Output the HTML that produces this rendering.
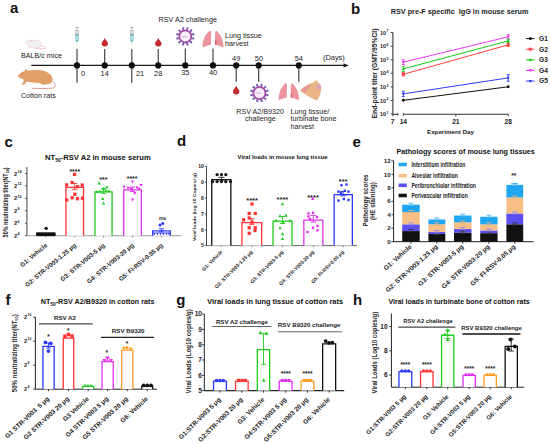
<!DOCTYPE html><html><head><meta charset="utf-8"><style>html,body{margin:0;padding:0;background:#fff;}svg{display:block;}</style></head><body><svg width="550" height="444" viewBox="0 0 550 444" font-family='"Liberation Sans", sans-serif'><rect width="550" height="444" fill="#fff"/><text x="10" y="13.4" font-size="15" font-weight="bold" text-anchor="start" fill="#111">a</text>
<line x1="31.3" y1="65.4" x2="345" y2="65.4" stroke="#1a1a1a" stroke-width="1.2"/>
<polygon points="343.5,63.2 348.8,65.4 343.5,67.6" fill="#1a1a1a"/>
<line x1="77" y1="49" x2="77" y2="82.7" stroke="#333" stroke-width="1.1"/>
<line x1="104.7" y1="49" x2="104.7" y2="65.4" stroke="#333" stroke-width="1.1"/>
<line x1="131.8" y1="49" x2="131.8" y2="82.7" stroke="#333" stroke-width="1.1"/>
<line x1="158.2" y1="49" x2="158.2" y2="65.4" stroke="#333" stroke-width="1.1"/>
<line x1="185.3" y1="48.5" x2="185.3" y2="65.4" stroke="#333" stroke-width="1.1"/>
<line x1="213" y1="48.5" x2="213" y2="65.4" stroke="#333" stroke-width="1.1"/>
<line x1="236.2" y1="65.4" x2="236.2" y2="81.7" stroke="#333" stroke-width="1.1"/>
<line x1="258.7" y1="65.4" x2="258.7" y2="81.7" stroke="#333" stroke-width="1.1"/>
<line x1="298.8" y1="65.4" x2="298.8" y2="81.7" stroke="#333" stroke-width="1.1"/>
<circle cx="77" cy="65.4" r="3.1" fill="#0d0d0d"/>
<circle cx="104.7" cy="65.4" r="3.1" fill="#0d0d0d"/>
<circle cx="131.8" cy="65.4" r="3.1" fill="#0d0d0d"/>
<circle cx="158.2" cy="65.4" r="3.1" fill="#0d0d0d"/>
<circle cx="185.3" cy="65.4" r="3.1" fill="#0d0d0d"/>
<circle cx="213" cy="65.4" r="3.1" fill="#0d0d0d"/>
<circle cx="236.2" cy="65.4" r="3.1" fill="#0d0d0d"/>
<circle cx="258.7" cy="65.4" r="3.1" fill="#0d0d0d"/>
<circle cx="298.8" cy="65.4" r="3.1" fill="#0d0d0d"/>
<text x="81" y="75.5" font-size="7.4" font-weight="normal" text-anchor="start" fill="#222">0</text>
<text x="104.7" y="75.5" font-size="7.4" font-weight="normal" text-anchor="middle" fill="#222">14</text>
<text x="136" y="75.5" font-size="7.4" font-weight="normal" text-anchor="start" fill="#222">21</text>
<text x="158.2" y="75.5" font-size="7.4" font-weight="normal" text-anchor="middle" fill="#222">28</text>
<text x="185.3" y="75.2" font-size="7.4" font-weight="normal" text-anchor="middle" fill="#222">35</text>
<text x="213" y="75.2" font-size="7.4" font-weight="normal" text-anchor="middle" fill="#222">40</text>
<text x="236.2" y="60.5" font-size="7.4" font-weight="normal" text-anchor="middle" fill="#222">49</text>
<text x="258.9" y="60.5" font-size="7.4" font-weight="normal" text-anchor="middle" fill="#222">50</text>
<text x="298.8" y="60.5" font-size="7.4" font-weight="normal" text-anchor="middle" fill="#222">54</text>
<text x="323" y="59.9" font-size="7.4" font-weight="normal" text-anchor="start" fill="#222">(Days)</text>
<text x="158.4" y="22" font-size="7.2" font-weight="normal" text-anchor="start" fill="#222" textLength="58.6" lengthAdjust="spacingAndGlyphs">RSV A2 challenge</text>
<text x="225" y="38" font-size="7.2" font-weight="normal" text-anchor="start" fill="#222">Lung tissue</text>
<text x="225" y="45.6" font-size="7.2" font-weight="normal" text-anchor="start" fill="#222">harvest</text>
<text x="21" y="58" font-size="7.2" font-weight="normal" text-anchor="start" fill="#222" textLength="41" lengthAdjust="spacingAndGlyphs">BALB/c mice</text>
<text x="21" y="97.7" font-size="7.2" font-weight="normal" text-anchor="start" fill="#222" textLength="34.7" lengthAdjust="spacingAndGlyphs">Cotton rats</text>
<text x="236.3" y="113.5" font-size="7.2" font-weight="normal" text-anchor="start" fill="#222" textLength="47.6" lengthAdjust="spacingAndGlyphs">RSV A2/B9320</text>
<text x="260.3" y="121.2" font-size="7.2" font-weight="normal" text-anchor="middle" fill="#222">challenge</text>
<text x="290.5" y="113.5" font-size="7.2" font-weight="normal" text-anchor="start" fill="#222">Lung tissue/</text>
<text x="290.5" y="121.2" font-size="7.2" font-weight="normal" text-anchor="start" fill="#222">turbinate bone</text>
<text x="290.5" y="129.3" font-size="7.2" font-weight="normal" text-anchor="start" fill="#222">harvest</text>
<g transform="translate(77,0)"><rect x="-1.6" y="27" width="3.2" height="0.9" fill="#9aa"/><rect x="-0.5" y="27.8" width="1" height="3" fill="#bbb"/><rect x="-1.6" y="30.5" width="3.2" height="4.3" fill="#d8dde0" stroke="#9aa" stroke-width="0.4"/><rect x="-1.6" y="34.6" width="3.2" height="0.9" fill="#456"/><rect x="-1.6" y="35.5" width="3.2" height="4.8" fill="#a8e4ea" stroke="#7bb" stroke-width="0.4"/><polygon points="-1.2,40.3 1.2,40.3 0,42.8" fill="#4aa"/><line x1="0" y1="42.8" x2="0" y2="46" stroke="#ccc" stroke-width="0.4"/></g>
<g transform="translate(131.8,0)"><rect x="-1.6" y="27" width="3.2" height="0.9" fill="#9aa"/><rect x="-0.5" y="27.8" width="1" height="3" fill="#bbb"/><rect x="-1.6" y="30.5" width="3.2" height="4.3" fill="#d8dde0" stroke="#9aa" stroke-width="0.4"/><rect x="-1.6" y="34.6" width="3.2" height="0.9" fill="#456"/><rect x="-1.6" y="35.5" width="3.2" height="4.8" fill="#a8e4ea" stroke="#7bb" stroke-width="0.4"/><polygon points="-1.2,40.3 1.2,40.3 0,42.8" fill="#4aa"/><line x1="0" y1="42.8" x2="0" y2="46" stroke="#ccc" stroke-width="0.4"/></g>
<path d="M104.8,38.0 C105.6,40.2 108.0,42.0 108.0,43.6 A3.2,3.0 0 0 1 101.6,43.6 C101.6,42.0 104.0,40.2 104.8,38.0 Z" fill="#c42a31"/>
<path d="M158.3,38.0 C159.10000000000002,40.2 161.5,42.0 161.5,43.6 A3.2,3.0 0 0 1 155.10000000000002,43.6 C155.10000000000002,42.0 157.5,40.2 158.3,38.0 Z" fill="#c42a31"/>
<path d="M236.2,85.8 C237.0,88 239.39999999999998,89.8 239.39999999999998,91.4 A3.2,3.0 0 0 1 233.0,91.4 C233.0,89.8 235.39999999999998,88 236.2,85.8 Z" fill="#c42a31"/>
<line x1="191.58" y1="38.07" x2="193.22" y2="38.51" stroke="#7a56ae" stroke-width="1.1"/><circle cx="193.32" cy="38.53" r="1.15" fill="#6f5bb0"/><line x1="189.90" y1="40.99" x2="191.11" y2="42.19" stroke="#7a56ae" stroke-width="1.1"/><circle cx="191.18" cy="42.26" r="1.15" fill="#6f5bb0"/><line x1="186.99" y1="42.68" x2="187.44" y2="44.32" stroke="#7a56ae" stroke-width="1.1"/><circle cx="187.46" cy="44.41" r="1.15" fill="#6f5bb0"/><line x1="183.63" y1="42.68" x2="183.19" y2="44.32" stroke="#7a56ae" stroke-width="1.1"/><circle cx="183.17" cy="44.42" r="1.15" fill="#6f5bb0"/><line x1="180.71" y1="41.00" x2="179.51" y2="42.21" stroke="#7a56ae" stroke-width="1.1"/><circle cx="179.44" cy="42.28" r="1.15" fill="#6f5bb0"/><line x1="179.02" y1="38.09" x2="177.38" y2="38.54" stroke="#7a56ae" stroke-width="1.1"/><circle cx="177.29" cy="38.56" r="1.15" fill="#6f5bb0"/><line x1="179.02" y1="34.73" x2="177.38" y2="34.29" stroke="#7a56ae" stroke-width="1.1"/><circle cx="177.28" cy="34.27" r="1.15" fill="#6f5bb0"/><line x1="180.70" y1="31.81" x2="179.49" y2="30.61" stroke="#7a56ae" stroke-width="1.1"/><circle cx="179.42" cy="30.54" r="1.15" fill="#6f5bb0"/><line x1="183.61" y1="30.12" x2="183.16" y2="28.48" stroke="#7a56ae" stroke-width="1.1"/><circle cx="183.14" cy="28.39" r="1.15" fill="#6f5bb0"/><line x1="186.97" y1="30.12" x2="187.41" y2="28.48" stroke="#7a56ae" stroke-width="1.1"/><circle cx="187.43" cy="28.38" r="1.15" fill="#6f5bb0"/><line x1="189.89" y1="31.80" x2="191.09" y2="30.59" stroke="#7a56ae" stroke-width="1.1"/><circle cx="191.16" cy="30.52" r="1.15" fill="#6f5bb0"/><line x1="191.58" y1="34.71" x2="193.22" y2="34.26" stroke="#7a56ae" stroke-width="1.1"/><circle cx="193.31" cy="34.24" r="1.15" fill="#6f5bb0"/><circle cx="185.3" cy="36.4" r="6.1" fill="#f8eef8" stroke="#a04aa6" stroke-width="1.8"/><path d="M182.3,36.1 l1,1.2 l1,-1.5 l1,1.4 l1,-1.2 l1,1" stroke="#a88ac4" stroke-width="0.5" fill="none"/>
<line x1="265.68" y1="94.67" x2="267.32" y2="95.11" stroke="#7a56ae" stroke-width="1.1"/><circle cx="267.42" cy="95.13" r="1.15" fill="#6f5bb0"/><line x1="264.00" y1="97.59" x2="265.21" y2="98.79" stroke="#7a56ae" stroke-width="1.1"/><circle cx="265.28" cy="98.86" r="1.15" fill="#6f5bb0"/><line x1="261.09" y1="99.28" x2="261.54" y2="100.92" stroke="#7a56ae" stroke-width="1.1"/><circle cx="261.56" cy="101.01" r="1.15" fill="#6f5bb0"/><line x1="257.73" y1="99.28" x2="257.29" y2="100.92" stroke="#7a56ae" stroke-width="1.1"/><circle cx="257.27" cy="101.02" r="1.15" fill="#6f5bb0"/><line x1="254.81" y1="97.60" x2="253.61" y2="98.81" stroke="#7a56ae" stroke-width="1.1"/><circle cx="253.54" cy="98.88" r="1.15" fill="#6f5bb0"/><line x1="253.12" y1="94.69" x2="251.48" y2="95.14" stroke="#7a56ae" stroke-width="1.1"/><circle cx="251.39" cy="95.16" r="1.15" fill="#6f5bb0"/><line x1="253.12" y1="91.33" x2="251.48" y2="90.89" stroke="#7a56ae" stroke-width="1.1"/><circle cx="251.38" cy="90.87" r="1.15" fill="#6f5bb0"/><line x1="254.80" y1="88.41" x2="253.59" y2="87.21" stroke="#7a56ae" stroke-width="1.1"/><circle cx="253.52" cy="87.14" r="1.15" fill="#6f5bb0"/><line x1="257.71" y1="86.72" x2="257.26" y2="85.08" stroke="#7a56ae" stroke-width="1.1"/><circle cx="257.24" cy="84.99" r="1.15" fill="#6f5bb0"/><line x1="261.07" y1="86.72" x2="261.51" y2="85.08" stroke="#7a56ae" stroke-width="1.1"/><circle cx="261.53" cy="84.98" r="1.15" fill="#6f5bb0"/><line x1="263.99" y1="88.40" x2="265.19" y2="87.19" stroke="#7a56ae" stroke-width="1.1"/><circle cx="265.26" cy="87.12" r="1.15" fill="#6f5bb0"/><line x1="265.68" y1="91.31" x2="267.32" y2="90.86" stroke="#7a56ae" stroke-width="1.1"/><circle cx="267.41" cy="90.84" r="1.15" fill="#6f5bb0"/><circle cx="259.4" cy="93" r="6.1" fill="#f8eef8" stroke="#a04aa6" stroke-width="1.8"/><path d="M256.4,92.7 l1,1.2 l1,-1.5 l1,1.4 l1,-1.2 l1,1" stroke="#a88ac4" stroke-width="0.5" fill="none"/>
<g transform="translate(202.6,30.7) scale(1.0048309178743962,1.0058823529411764)"><path d="M7,0 C8,0.3 8.3,2 8.3,4 L8.3,14 C5,14.6 2,15.6 0,16.8 C-0.3,10 2.5,3.5 7,0 Z" fill="#ec939e"/><path d="M13.7,0 C12.7,0.3 12.4,2 12.4,4 L12.4,14 C15.7,14.6 18.7,15.6 20.7,16.8 C21,10 18.2,3.5 13.7,0 Z" fill="#ec939e"/><path d="M12.4,10.2 L13.8,9.6 L13.6,14.2 L12.4,14 Z" fill="#cf5563"/><path d="M7.2,0.4 C7.8,1 8.0,2.5 8.0,4" stroke="#d86878" stroke-width="0.6" fill="none"/></g>
<g transform="translate(278.7,83.2) scale(0.9758454106280193,1.0235294117647058)"><path d="M7,0 C8,0.3 8.3,2 8.3,4 L8.3,14 C5,14.6 2,15.6 0,16.8 C-0.3,10 2.5,3.5 7,0 Z" fill="#ec939e"/><path d="M13.7,0 C12.7,0.3 12.4,2 12.4,4 L12.4,14 C15.7,14.6 18.7,15.6 20.7,16.8 C21,10 18.2,3.5 13.7,0 Z" fill="#ec939e"/><path d="M12.4,10.2 L13.8,9.6 L13.6,14.2 L12.4,14 Z" fill="#cf5563"/><path d="M7.2,0.4 C7.8,1 8.0,2.5 8.0,4" stroke="#d86878" stroke-width="0.6" fill="none"/></g>
<path d="M300.1,90.8 C303,87 308,84 313.6,82.3 L315,80.8 C316.5,80.3 317.8,80.8 317.8,82.5 C320.5,83.5 321.5,86 321.2,89 C321,93 319.5,97.5 317,100.6 C313,99 306,95.5 300.1,90.8 Z" fill="#e9b684"/><path d="M300.5,90.5 C303,87.8 307.5,85 311,84.2 C309.5,87 307,90.5 305,93 C303.5,92.3 302,91.5 300.5,90.5 Z" fill="#f0949a"/><circle cx="318.6" cy="87" r="2.4" fill="#dba2b2"/>
<path d="M26.1,42.2 C27.5,41 29.5,40.6 31,40.6 L31.3,39.8 C32,39.5 32.6,40 32.5,40.5 C35,39.8 38.5,40 40.5,42 C42,43.5 42,45.5 40.5,46.8 C39.5,47.3 38.5,47.6 38,47.6 C35,47.5 32,47.2 30,46.8 C29.5,47.3 29.2,47.6 28.8,47.8 C28.6,47 29,46.2 29,45.5 C27.8,44.5 26.6,43.5 26.1,42.2 Z" fill="#f3f1f1" stroke="#e6b9b9" stroke-width="0.5"/><path d="M40.8,45.8 C43.5,46.5 46.5,47.5 45.5,48.5 C43,49 37,48.5 34.5,48.3" stroke="#e8a8a8" stroke-width="0.6" fill="none"/><circle cx="31.5" cy="41.2" r="0.9" fill="#f0c4c8"/>
<path d="M52.5,81.5 C55,83 56,86 54.5,87.5 C52,88.8 40,88.5 32,88.3" stroke="#dc9a98" stroke-width="1.0" fill="none"/><path d="M18.2,75.7 C19.5,73.5 22,72 24.8,71.5 L25.3,69.6 C26.3,69.1 27.5,69.8 27.6,71.2 C31,70.3 35,70 38,70.2 C44,70.5 49,72.5 51.2,76 C52.8,78.5 52.8,81.5 50.5,83 C48.5,84 46.5,84.3 45,84.3 L41.8,84.3 C41,83.5 40.5,83 39.5,82.8 C37,82.6 34,82.5 31.5,82 C29.5,81.8 27.5,81.5 26.5,81.2 C26,82.2 25.5,83 24.8,84 L22,84.3 C21.8,83.5 22.5,83 23.5,82.5 C24,81.5 24,80 23.8,79 C22,78.8 20.5,78 19,77.2 C18.4,76.8 18.1,76.3 18.2,75.7 Z" fill="#e09f64" stroke="#d08a50" stroke-width="0.4"/><circle cx="22.4" cy="74" r="0.5" fill="#a05a30"/>
<text x="351" y="14" font-size="15" font-weight="bold" text-anchor="start" fill="#111">b</text>
<text x="390.8" y="14" font-size="7" font-weight="bold" text-anchor="start" fill="#222" textLength="137.6" lengthAdjust="spacingAndGlyphs">RSV pre-F specific&#160; IgG in mouse serum</text>
<line x1="392.9" y1="32.4" x2="392.9" y2="114" stroke="#222" stroke-width="1"/>
<line x1="390.7" y1="114.0" x2="392.9" y2="114.0" stroke="#222" stroke-width="0.9"/>
<text x="385.9" y="116.1" font-size="5.4" font-weight="bold" text-anchor="end" fill="#222">10</text>
<text x="386.6" y="113.8" font-size="3.6" font-weight="bold" text-anchor="start" fill="#222">1</text>
<line x1="390.7" y1="100.43" x2="392.9" y2="100.43" stroke="#222" stroke-width="0.9"/>
<text x="385.9" y="102.53" font-size="5.4" font-weight="bold" text-anchor="end" fill="#222">10</text>
<text x="386.6" y="100.23" font-size="3.6" font-weight="bold" text-anchor="start" fill="#222">2</text>
<line x1="390.7" y1="86.86" x2="392.9" y2="86.86" stroke="#222" stroke-width="0.9"/>
<text x="385.9" y="88.96" font-size="5.4" font-weight="bold" text-anchor="end" fill="#222">10</text>
<text x="386.6" y="86.66" font-size="3.6" font-weight="bold" text-anchor="start" fill="#222">3</text>
<line x1="390.7" y1="73.28999999999999" x2="392.9" y2="73.28999999999999" stroke="#222" stroke-width="0.9"/>
<text x="385.9" y="75.38999999999999" font-size="5.4" font-weight="bold" text-anchor="end" fill="#222">10</text>
<text x="386.6" y="73.08999999999999" font-size="3.6" font-weight="bold" text-anchor="start" fill="#222">4</text>
<line x1="390.7" y1="59.72" x2="392.9" y2="59.72" stroke="#222" stroke-width="0.9"/>
<text x="385.9" y="61.82" font-size="5.4" font-weight="bold" text-anchor="end" fill="#222">10</text>
<text x="386.6" y="59.519999999999996" font-size="3.6" font-weight="bold" text-anchor="start" fill="#222">5</text>
<line x1="390.7" y1="46.150000000000006" x2="392.9" y2="46.150000000000006" stroke="#222" stroke-width="0.9"/>
<text x="385.9" y="48.25000000000001" font-size="5.4" font-weight="bold" text-anchor="end" fill="#222">10</text>
<text x="386.6" y="45.95" font-size="3.6" font-weight="bold" text-anchor="start" fill="#222">6</text>
<line x1="390.7" y1="32.58" x2="392.9" y2="32.58" stroke="#222" stroke-width="0.9"/>
<text x="385.9" y="34.68" font-size="5.4" font-weight="bold" text-anchor="end" fill="#222">10</text>
<text x="386.6" y="32.379999999999995" font-size="3.6" font-weight="bold" text-anchor="start" fill="#222">7</text>
<line x1="392.9" y1="114.3" x2="397.8" y2="114.3" stroke="#333" stroke-width="1.1"/>
<line x1="403.4" y1="114.3" x2="508.5" y2="114.3" stroke="#333" stroke-width="1.1"/>
<line x1="397.8" y1="112.9" x2="397.8" y2="115.7" stroke="#333" stroke-width="0.9"/>
<line x1="403.4" y1="112.9" x2="403.4" y2="115.7" stroke="#333" stroke-width="0.9"/>
<line x1="392.9" y1="114.3" x2="392.9" y2="116.5" stroke="#333" stroke-width="0.9"/>
<line x1="455.8" y1="114.3" x2="455.8" y2="116.5" stroke="#333" stroke-width="0.9"/>
<line x1="508.2" y1="114.3" x2="508.2" y2="116.5" stroke="#333" stroke-width="0.9"/>
<text x="392.7" y="123.6" font-size="6.6" font-weight="bold" text-anchor="middle" fill="#222">7</text>
<text x="403.3" y="123.6" font-size="6.6" font-weight="bold" text-anchor="middle" fill="#222">14</text>
<text x="455.8" y="123.6" font-size="6.6" font-weight="bold" text-anchor="middle" fill="#222">21</text>
<text x="508.2" y="123.6" font-size="6.6" font-weight="bold" text-anchor="middle" fill="#222">28</text>
<text x="450.5" y="134.3" font-size="6" font-weight="bold" text-anchor="middle" fill="#222" textLength="47" lengthAdjust="spacingAndGlyphs">Experiment Day</text>
<text x="377.2" y="73.5" font-size="6.6" font-weight="bold" text-anchor="middle" fill="#222" transform="rotate(-90 377.2 73.5)" textLength="90" lengthAdjust="spacingAndGlyphs">End-point titer (GMT/95%CI)</text>
<line x1="403.3" y1="100.3" x2="508.2" y2="86.8" stroke="#111111" stroke-width="1.0"/>
<circle cx="403.3" cy="100.3" r="1.4375" fill="#111111"/>
<circle cx="508.2" cy="86.8" r="1.4375" fill="#111111"/>
<line x1="403.3" y1="74.3" x2="508.2" y2="44.9" stroke="#ff4040" stroke-width="1.0"/>
<rect x="401.8625" y="72.8625" width="2.875" height="2.875" fill="#ff4040" stroke="none" stroke-width="1"/>
<rect x="506.7625" y="43.4625" width="2.875" height="2.875" fill="#ff4040" stroke="none" stroke-width="1"/>
<line x1="403.3" y1="68.9" x2="508.2" y2="40.9" stroke="#16c916" stroke-width="1.0"/>
<polygon points="403.3,67.17500000000001 404.88125,70.05000000000001 401.71875,70.05000000000001" fill="#16c916"/>
<polygon points="508.2,39.175 509.78125,42.05 506.61875,42.05" fill="#16c916"/>
<line x1="403.3" y1="62.2" x2="508.2" y2="36.8" stroke="#e838f0" stroke-width="1.0"/>
<polygon points="403.3,63.925000000000004 404.88125,61.050000000000004 401.71875,61.050000000000004" fill="#e838f0"/>
<polygon points="508.2,38.525 509.78125,35.65 506.61875,35.65" fill="#e838f0"/>
<line x1="403.3" y1="93.9" x2="508.2" y2="77.9" stroke="#2b3cf5" stroke-width="1.0"/>
<polygon points="403.3,95.625 404.88125,92.75 401.71875,92.75" fill="#2b3cf5"/>
<polygon points="508.2,79.625 509.78125,76.75 506.61875,76.75" fill="#2b3cf5"/>
<line x1="403.3" y1="91.30000000000001" x2="403.3" y2="96.5" stroke="#2b3cf5" stroke-width="0.9"/>
<line x1="401.8" y1="91.30000000000001" x2="404.8" y2="91.30000000000001" stroke="#2b3cf5" stroke-width="0.9"/>
<line x1="401.8" y1="96.5" x2="404.8" y2="96.5" stroke="#2b3cf5" stroke-width="0.9"/>
<line x1="508.2" y1="74.60000000000001" x2="508.2" y2="81.2" stroke="#2b3cf5" stroke-width="0.9"/>
<line x1="506.7" y1="74.60000000000001" x2="509.7" y2="74.60000000000001" stroke="#2b3cf5" stroke-width="0.9"/>
<line x1="506.7" y1="81.2" x2="509.7" y2="81.2" stroke="#2b3cf5" stroke-width="0.9"/>
<line x1="403.3" y1="59.800000000000004" x2="403.3" y2="64.60000000000001" stroke="#e838f0" stroke-width="0.9"/>
<line x1="401.8" y1="59.800000000000004" x2="404.8" y2="59.800000000000004" stroke="#e838f0" stroke-width="0.9"/>
<line x1="401.8" y1="64.60000000000001" x2="404.8" y2="64.60000000000001" stroke="#e838f0" stroke-width="0.9"/>
<line x1="508.2" y1="34.599999999999994" x2="508.2" y2="39.0" stroke="#e838f0" stroke-width="0.9"/>
<line x1="506.7" y1="34.599999999999994" x2="509.7" y2="34.599999999999994" stroke="#e838f0" stroke-width="0.9"/>
<line x1="506.7" y1="39.0" x2="509.7" y2="39.0" stroke="#e838f0" stroke-width="0.9"/>
<line x1="403.3" y1="72.7" x2="403.3" y2="75.89999999999999" stroke="#ff4040" stroke-width="0.9"/>
<line x1="401.8" y1="72.7" x2="404.8" y2="72.7" stroke="#ff4040" stroke-width="0.9"/>
<line x1="401.8" y1="75.89999999999999" x2="404.8" y2="75.89999999999999" stroke="#ff4040" stroke-width="0.9"/>
<line x1="508.2" y1="43.4" x2="508.2" y2="46.4" stroke="#ff4040" stroke-width="0.9"/>
<line x1="506.7" y1="43.4" x2="509.7" y2="43.4" stroke="#ff4040" stroke-width="0.9"/>
<line x1="506.7" y1="46.4" x2="509.7" y2="46.4" stroke="#ff4040" stroke-width="0.9"/>
<line x1="403.3" y1="66.30000000000001" x2="403.3" y2="71.5" stroke="#16c916" stroke-width="0.9"/>
<line x1="401.8" y1="66.30000000000001" x2="404.8" y2="66.30000000000001" stroke="#16c916" stroke-width="0.9"/>
<line x1="401.8" y1="71.5" x2="404.8" y2="71.5" stroke="#16c916" stroke-width="0.9"/>
<line x1="508.2" y1="39.3" x2="508.2" y2="42.5" stroke="#16c916" stroke-width="0.9"/>
<line x1="506.7" y1="39.3" x2="509.7" y2="39.3" stroke="#16c916" stroke-width="0.9"/>
<line x1="506.7" y1="42.5" x2="509.7" y2="42.5" stroke="#16c916" stroke-width="0.9"/>
<line x1="526" y1="38.6" x2="534.5" y2="38.6" stroke="#111111" stroke-width="1"/>
<circle cx="530.3" cy="38.6" r="1.5" fill="#111111"/>
<text x="539" y="41.0" font-size="6.6" font-weight="bold" text-anchor="start" fill="#222">G1</text>
<line x1="526" y1="49.22" x2="534.5" y2="49.22" stroke="#ff4040" stroke-width="1"/>
<rect x="528.8" y="47.72" width="3.0" height="3.0" fill="#ff4040" stroke="none" stroke-width="1"/>
<text x="539" y="51.62" font-size="6.6" font-weight="bold" text-anchor="start" fill="#222">G2</text>
<line x1="526" y1="59.84" x2="534.5" y2="59.84" stroke="#16c916" stroke-width="1"/>
<polygon points="530.3,58.040000000000006 531.9499999999999,61.040000000000006 528.65,61.040000000000006" fill="#16c916"/>
<text x="539" y="62.24" font-size="6.6" font-weight="bold" text-anchor="start" fill="#222">G3</text>
<line x1="526" y1="70.46000000000001" x2="534.5" y2="70.46000000000001" stroke="#e838f0" stroke-width="1"/>
<polygon points="530.3,72.26 531.9499999999999,69.26 528.65,69.26" fill="#e838f0"/>
<text x="539" y="72.86000000000001" font-size="6.6" font-weight="bold" text-anchor="start" fill="#222">G4</text>
<line x1="526" y1="81.08" x2="534.5" y2="81.08" stroke="#2b3cf5" stroke-width="1"/>
<polygon points="530.3,82.88 531.9499999999999,79.88 528.65,79.88" fill="#2b3cf5"/>
<text x="539" y="83.48" font-size="6.6" font-weight="bold" text-anchor="start" fill="#222">G5</text>
<text x="4.5" y="147" font-size="15" font-weight="bold" text-anchor="start" fill="#111">c</text>
<text x="45" y="160" font-size="7.6" font-weight="bold" fill="#111">NT<tspan font-size="5" dy="1.5">50</tspan><tspan dy="-1.5">-RSV A2 in mouse serum</tspan></text>
<line x1="26.9" y1="167" x2="26.9" y2="235.7" stroke="#333" stroke-width="0.9"/>
<line x1="26.9" y1="235.7" x2="181.5" y2="235.7" stroke="#999" stroke-width="1.1"/>
<line x1="24.9" y1="235.7" x2="26.9" y2="235.7" stroke="#333" stroke-width="0.8"/>
<text x="17.3" y="237.7" font-size="5.8" font-weight="bold" text-anchor="end" fill="#222">2</text>
<text x="17.6" y="235.1" font-size="3.6" font-weight="bold" text-anchor="start" fill="#222">4</text>
<line x1="24.9" y1="223.26" x2="26.9" y2="223.26" stroke="#333" stroke-width="0.8"/>
<text x="17.3" y="225.26" font-size="5.8" font-weight="bold" text-anchor="end" fill="#222">2</text>
<text x="17.6" y="222.66" font-size="3.6" font-weight="bold" text-anchor="start" fill="#222">6</text>
<line x1="24.9" y1="210.82" x2="26.9" y2="210.82" stroke="#333" stroke-width="0.8"/>
<text x="17.3" y="212.82" font-size="5.8" font-weight="bold" text-anchor="end" fill="#222">2</text>
<text x="17.6" y="210.22" font-size="3.6" font-weight="bold" text-anchor="start" fill="#222">8</text>
<line x1="24.9" y1="198.38" x2="26.9" y2="198.38" stroke="#333" stroke-width="0.8"/>
<text x="17.3" y="200.38" font-size="5.8" font-weight="bold" text-anchor="end" fill="#222">2</text>
<text x="17.6" y="197.78" font-size="3.6" font-weight="bold" text-anchor="start" fill="#222">10</text>
<line x1="24.9" y1="185.94" x2="26.9" y2="185.94" stroke="#333" stroke-width="0.8"/>
<text x="17.3" y="187.94" font-size="5.8" font-weight="bold" text-anchor="end" fill="#222">2</text>
<text x="17.6" y="185.34" font-size="3.6" font-weight="bold" text-anchor="start" fill="#222">12</text>
<line x1="24.9" y1="173.5" x2="26.9" y2="173.5" stroke="#333" stroke-width="0.8"/>
<text x="17.3" y="175.5" font-size="5.8" font-weight="bold" text-anchor="end" fill="#222">2</text>
<text x="17.6" y="172.9" font-size="3.6" font-weight="bold" text-anchor="start" fill="#222">14</text>
<text x="0" y="0" font-size="6.3" font-weight="bold" fill="#222" text-anchor="middle" transform="translate(7.9,202.4) rotate(-90)" textLength="70" lengthAdjust="spacingAndGlyphs">50% neutralizing titer(NT<tspan font-size="4.2" dy="1.3">50</tspan><tspan dy="-1.3">)</tspan></text>
<path d="M36.65,235.7 L36.65,233.25 L54.95,233.25 L54.95,235.7" fill="#fff" stroke="#111111" stroke-width="1.3"/>
<line x1="45.8" y1="235.7" x2="45.8" y2="237.5" stroke="#666" stroke-width="0.7"/>
<path d="M65.95,235.7 L65.95,187.35 L83.55,187.35 L83.55,235.7" fill="#fff" stroke="#ff3333" stroke-width="1.3"/>
<line x1="74.75" y1="235.7" x2="74.75" y2="237.5" stroke="#666" stroke-width="0.7"/>
<path d="M94.95,235.7 L94.95,191.85 L112.05,191.85 L112.05,235.7" fill="#fff" stroke="#1ecb1e" stroke-width="1.3"/>
<line x1="103.5" y1="235.7" x2="103.5" y2="237.5" stroke="#666" stroke-width="0.7"/>
<path d="M123.75,235.7 L123.75,189.85 L141.35,189.85 L141.35,235.7" fill="#fff" stroke="#e030ef" stroke-width="1.3"/>
<line x1="132.55" y1="235.7" x2="132.55" y2="237.5" stroke="#666" stroke-width="0.7"/>
<path d="M152.65,235.7 L152.65,230.95000000000002 L170.25,230.95000000000002 L170.25,235.7" fill="#fff" stroke="#2a3af5" stroke-width="1.3"/>
<line x1="161.45" y1="235.7" x2="161.45" y2="237.5" stroke="#666" stroke-width="0.7"/>
<rect x="37" y="232.6" width="18" height="3.5" fill="#111111" stroke="none" stroke-width="1"/>
<circle cx="46.2" cy="228.3" r="1.625" fill="#111111"/>
<circle cx="39" cy="234.5" r="1.5" fill="#111111"/>
<circle cx="42" cy="234.5" r="1.5" fill="#111111"/>
<circle cx="45" cy="234.5" r="1.5" fill="#111111"/>
<circle cx="48" cy="234.5" r="1.5" fill="#111111"/>
<circle cx="51" cy="234.5" r="1.5" fill="#111111"/>
<circle cx="54" cy="234.5" r="1.5" fill="#111111"/>
<rect x="72.875" y="172.775" width="3.25" height="3.25" fill="#ff3333" stroke="none" stroke-width="1"/>
<rect x="65.075" y="183.275" width="3.25" height="3.25" fill="#ff3333" stroke="none" stroke-width="1"/>
<rect x="70.475" y="180.875" width="3.25" height="3.25" fill="#ff3333" stroke="none" stroke-width="1"/>
<rect x="75.875" y="185.075" width="3.25" height="3.25" fill="#ff3333" stroke="none" stroke-width="1"/>
<rect x="80.575" y="183.375" width="3.25" height="3.25" fill="#ff3333" stroke="none" stroke-width="1"/>
<rect x="73.175" y="192.575" width="3.25" height="3.25" fill="#ff3333" stroke="none" stroke-width="1"/>
<rect x="70.475" y="196.175" width="3.25" height="3.25" fill="#ff3333" stroke="none" stroke-width="1"/>
<rect x="75.875" y="197.075" width="3.25" height="3.25" fill="#ff3333" stroke="none" stroke-width="1"/>
<rect x="65.075" y="198.375" width="3.25" height="3.25" fill="#ff3333" stroke="none" stroke-width="1"/>
<rect x="80.775" y="196.575" width="3.25" height="3.25" fill="#ff3333" stroke="none" stroke-width="1"/>
<line x1="74.7" y1="183.4" x2="74.7" y2="189.7" stroke="#ff3333" stroke-width="0.9"/>
<line x1="72.10000000000001" y1="183.4" x2="77.3" y2="183.4" stroke="#ff3333" stroke-width="0.9"/>
<line x1="72.10000000000001" y1="189.7" x2="77.3" y2="189.7" stroke="#ff3333" stroke-width="0.9"/>
<polygon points="99.1,181.6 100.75,184.6 97.44999999999999,184.6" fill="#1ecb1e"/>
<polygon points="103.6,187.0 105.25,190.0 101.94999999999999,190.0" fill="#1ecb1e"/>
<polygon points="100,189.7 101.65,192.7 98.35,192.7" fill="#1ecb1e"/>
<polygon points="106,188.7 107.65,191.7 104.35,191.7" fill="#1ecb1e"/>
<polygon points="109,189.2 110.65,192.2 107.35,192.2" fill="#1ecb1e"/>
<polygon points="97,190.0 98.65,193.0 95.35,193.0" fill="#1ecb1e"/>
<polygon points="102.7,196.89999999999998 104.35000000000001,199.89999999999998 101.05,199.89999999999998" fill="#1ecb1e"/>
<polygon points="103.6,201.39999999999998 105.25,204.39999999999998 101.94999999999999,204.39999999999998" fill="#1ecb1e"/>
<polygon points="107,185.2 108.65,188.2 105.35,188.2" fill="#1ecb1e"/>
<line x1="103.5" y1="188.8" x2="103.5" y2="193.3" stroke="#1ecb1e" stroke-width="0.9"/>
<line x1="100.9" y1="188.8" x2="106.1" y2="188.8" stroke="#1ecb1e" stroke-width="0.9"/>
<line x1="100.9" y1="193.3" x2="106.1" y2="193.3" stroke="#1ecb1e" stroke-width="0.9"/>
<polygon points="132.5,183.4 134.15,180.4 130.85,180.4" fill="#e030ef"/>
<polygon points="124,188.8 125.65,185.8 122.35,185.8" fill="#e030ef"/>
<polygon points="128,189.8 129.65,186.8 126.35,186.8" fill="#e030ef"/>
<polygon points="131,190.8 132.65,187.8 129.35,187.8" fill="#e030ef"/>
<polygon points="137,189.3 138.65,186.3 135.35,186.3" fill="#e030ef"/>
<polygon points="141.1,187.0 142.75,184.0 139.45,184.0" fill="#e030ef"/>
<polygon points="134.8,195.10000000000002 136.45000000000002,192.10000000000002 133.15,192.10000000000002" fill="#e030ef"/>
<polygon points="132.5,201.4 134.15,198.4 130.85,198.4" fill="#e030ef"/>
<polygon points="139,190.8 140.65,187.8 137.35,187.8" fill="#e030ef"/>
<line x1="132.5" y1="187" x2="132.5" y2="191.5" stroke="#e030ef" stroke-width="0.9"/>
<line x1="129.9" y1="187" x2="135.1" y2="187" stroke="#e030ef" stroke-width="0.9"/>
<line x1="129.9" y1="191.5" x2="135.1" y2="191.5" stroke="#e030ef" stroke-width="0.9"/>
<circle cx="160" cy="224.9" r="1.5" fill="#2a3af5"/>
<circle cx="162.7" cy="223.4" r="1.5" fill="#2a3af5"/>
<polygon points="154.5,235.25 156.0125,232.5 152.9875,232.5" fill="#2a3af5"/>
<polygon points="157.5,235.25 159.0125,232.5 155.9875,232.5" fill="#2a3af5"/>
<polygon points="160.5,235.25 162.0125,232.5 158.9875,232.5" fill="#2a3af5"/>
<polygon points="163.5,235.25 165.0125,232.5 161.9875,232.5" fill="#2a3af5"/>
<polygon points="166.5,235.25 168.0125,232.5 164.9875,232.5" fill="#2a3af5"/>
<polygon points="169,235.25 170.5125,232.5 167.4875,232.5" fill="#2a3af5"/>
<line x1="161.5" y1="228.8" x2="161.5" y2="231.8" stroke="#2a3af5" stroke-width="0.9"/>
<line x1="158.9" y1="228.8" x2="164.1" y2="228.8" stroke="#2a3af5" stroke-width="0.9"/>
<line x1="158.9" y1="231.8" x2="164.1" y2="231.8" stroke="#2a3af5" stroke-width="0.9"/>
<text x="74.8" y="173.74" font-size="6.9" font-weight="bold" text-anchor="middle" fill="#222">****</text>
<text x="103.4" y="182.34" font-size="6.9" font-weight="bold" text-anchor="middle" fill="#222">***</text>
<text x="132.1" y="181.34" font-size="6.9" font-weight="bold" text-anchor="middle" fill="#222">****</text>
<text x="162.7" y="219.6" font-size="6.2" font-weight="bold" text-anchor="middle" fill="#222">ns</text>
<text x="47.8" y="246" font-size="6.2" font-weight="bold" text-anchor="end" fill="#222" transform="rotate(-40 47.8 246)">G1: Vehicle</text>
<text x="76.6" y="246" font-size="6.2" font-weight="bold" text-anchor="end" fill="#222" transform="rotate(-40 76.6 246)">G2: STR-V003-1.25 μg</text>
<text x="105.3" y="246" font-size="6.2" font-weight="bold" text-anchor="end" fill="#222" transform="rotate(-40 105.3 246)">G3: STR-V003-5 μg</text>
<text x="134.3" y="246" font-size="6.2" font-weight="bold" text-anchor="end" fill="#222" transform="rotate(-40 134.3 246)">G4: STR-V003-20 μg</text>
<text x="163.3" y="246" font-size="6.2" font-weight="bold" text-anchor="end" fill="#222" transform="rotate(-40 163.3 246)">G5: FI-RSV-0.05 μg</text>
<text x="177" y="146.1" font-size="15" font-weight="bold" text-anchor="start" fill="#111">d</text>
<text x="237.6" y="158.6" font-size="5.6" font-weight="bold" text-anchor="start" fill="#111" textLength="90" lengthAdjust="spacingAndGlyphs">Viral loads in mouse lung tissue</text>
<line x1="206.5" y1="166.4" x2="206.5" y2="245.6" stroke="#333" stroke-width="0.9"/>
<line x1="206.5" y1="245.6" x2="357" y2="245.6" stroke="#555" stroke-width="0.9"/>
<line x1="204.7" y1="245.6" x2="206.5" y2="245.6" stroke="#333" stroke-width="0.8"/>
<text x="203.9" y="247.4" font-size="5.0" font-weight="bold" text-anchor="end" fill="#222">5</text>
<line x1="204.7" y1="229.76" x2="206.5" y2="229.76" stroke="#333" stroke-width="0.8"/>
<text x="203.9" y="231.56" font-size="5.0" font-weight="bold" text-anchor="end" fill="#222">6</text>
<line x1="204.7" y1="213.92" x2="206.5" y2="213.92" stroke="#333" stroke-width="0.8"/>
<text x="203.9" y="215.72" font-size="5.0" font-weight="bold" text-anchor="end" fill="#222">7</text>
<line x1="204.7" y1="198.07999999999998" x2="206.5" y2="198.07999999999998" stroke="#333" stroke-width="0.8"/>
<text x="203.9" y="199.88" font-size="5.0" font-weight="bold" text-anchor="end" fill="#222">8</text>
<line x1="204.7" y1="182.24" x2="206.5" y2="182.24" stroke="#333" stroke-width="0.8"/>
<text x="203.9" y="184.04000000000002" font-size="5.0" font-weight="bold" text-anchor="end" fill="#222">9</text>
<line x1="204.7" y1="166.39999999999998" x2="206.5" y2="166.39999999999998" stroke="#333" stroke-width="0.8"/>
<text x="203.9" y="168.2" font-size="5.0" font-weight="bold" text-anchor="end" fill="#222">10</text>
<text x="196.3" y="207.1" font-size="4.3" font-weight="bold" text-anchor="middle" fill="#222" transform="rotate(-90 196.3 207.1)" textLength="68" lengthAdjust="spacingAndGlyphs">Viral loads (log 10 Copies/ g)</text>
<path d="M211.75,245.6 L211.75,179.65 L230.85,179.65 L230.85,245.6" fill="#fff" stroke="#111111" stroke-width="1.3"/>
<line x1="221.3" y1="245.6" x2="221.3" y2="247.2" stroke="#555" stroke-width="0.7"/>
<path d="M241.95000000000002,245.6 L241.95000000000002,222.65 L261.65000000000003,222.65 L261.65000000000003,245.6" fill="#fff" stroke="#ff3333" stroke-width="1.3"/>
<line x1="251.8" y1="245.6" x2="251.8" y2="247.2" stroke="#555" stroke-width="0.7"/>
<path d="M273.04999999999995,245.6 L273.04999999999995,221.15 L292.05,221.15 L292.05,245.6" fill="#fff" stroke="#1ecb1e" stroke-width="1.3"/>
<line x1="282.54999999999995" y1="245.6" x2="282.54999999999995" y2="247.2" stroke="#555" stroke-width="0.7"/>
<path d="M303.84999999999997,245.6 L303.84999999999997,220.05 L322.85,220.05 L322.85,245.6" fill="#fff" stroke="#e030ef" stroke-width="1.3"/>
<line x1="313.35" y1="245.6" x2="313.35" y2="247.2" stroke="#555" stroke-width="0.7"/>
<path d="M334.15,245.6 L334.15,194.65 L352.35,194.65 L352.35,245.6" fill="#fff" stroke="#2a3af5" stroke-width="1.3"/>
<line x1="343.25" y1="245.6" x2="343.25" y2="247.2" stroke="#555" stroke-width="0.7"/>
<circle cx="217.1" cy="174.5" r="1.625" fill="#111111"/>
<circle cx="221.5" cy="174.5" r="1.625" fill="#111111"/>
<circle cx="225.8" cy="174.5" r="1.625" fill="#111111"/>
<circle cx="212.6" cy="181.5" r="1.625" fill="#111111"/>
<circle cx="217.1" cy="181.5" r="1.625" fill="#111111"/>
<circle cx="221.5" cy="181.5" r="1.625" fill="#111111"/>
<circle cx="225.8" cy="181.5" r="1.625" fill="#111111"/>
<circle cx="230.5" cy="181.5" r="1.625" fill="#111111"/>
<line x1="221.5" y1="177.3" x2="221.5" y2="180" stroke="#111111" stroke-width="0.9"/>
<line x1="218.5" y1="177.3" x2="224.5" y2="177.3" stroke="#111111" stroke-width="0.9"/>
<line x1="218.5" y1="180" x2="224.5" y2="180" stroke="#111111" stroke-width="0.9"/>
<rect x="250.375" y="202.375" width="3.25" height="3.25" fill="#ff3333" stroke="none" stroke-width="1"/>
<rect x="247.575" y="211.875" width="3.25" height="3.25" fill="#ff3333" stroke="none" stroke-width="1"/>
<rect x="253.675" y="211.875" width="3.25" height="3.25" fill="#ff3333" stroke="none" stroke-width="1"/>
<rect x="247.575" y="216.375" width="3.25" height="3.25" fill="#ff3333" stroke="none" stroke-width="1"/>
<rect x="241.975" y="218.175" width="3.25" height="3.25" fill="#ff3333" stroke="none" stroke-width="1"/>
<rect x="250.375" y="220.375" width="3.25" height="3.25" fill="#ff3333" stroke="none" stroke-width="1"/>
<rect x="247.575" y="226.075" width="3.25" height="3.25" fill="#ff3333" stroke="none" stroke-width="1"/>
<rect x="253.675" y="226.075" width="3.25" height="3.25" fill="#ff3333" stroke="none" stroke-width="1"/>
<rect x="247.575" y="231.675" width="3.25" height="3.25" fill="#ff3333" stroke="none" stroke-width="1"/>
<rect x="253.375" y="228.875" width="3.25" height="3.25" fill="#ff3333" stroke="none" stroke-width="1"/>
<line x1="251.8" y1="218.7" x2="251.8" y2="224.3" stroke="#ff3333" stroke-width="0.9"/>
<line x1="249.0" y1="218.7" x2="254.60000000000002" y2="218.7" stroke="#ff3333" stroke-width="0.9"/>
<line x1="249.0" y1="224.3" x2="254.60000000000002" y2="224.3" stroke="#ff3333" stroke-width="0.9"/>
<polygon points="282.5,202.2 284.15,205.2 280.85,205.2" fill="#1ecb1e"/>
<polygon points="280,214.2 281.65,217.2 278.35,217.2" fill="#1ecb1e"/>
<polygon points="286,213.7 287.65,216.7 284.35,216.7" fill="#1ecb1e"/>
<polygon points="276,218.7 277.65,221.7 274.35,221.7" fill="#1ecb1e"/>
<polygon points="290,218.7 291.65,221.7 288.35,221.7" fill="#1ecb1e"/>
<polygon points="283,220.2 284.65,223.2 281.35,223.2" fill="#1ecb1e"/>
<polygon points="280,226.2 281.65,229.2 278.35,229.2" fill="#1ecb1e"/>
<polygon points="282.5,232.2 284.15,235.2 280.85,235.2" fill="#1ecb1e"/>
<polygon points="282.5,237.0 284.15,240.0 280.85,240.0" fill="#1ecb1e"/>
<line x1="282.5" y1="216.5" x2="282.5" y2="223.5" stroke="#1ecb1e" stroke-width="0.9"/>
<line x1="279.7" y1="216.5" x2="285.3" y2="216.5" stroke="#1ecb1e" stroke-width="0.9"/>
<line x1="279.7" y1="223.5" x2="285.3" y2="223.5" stroke="#1ecb1e" stroke-width="0.9"/>
<rect x="311.5125" y="197.6125" width="2.375" height="2.375" fill="#e030ef" stroke="none" stroke-width="1"/>
<rect x="307.3125" y="212.3125" width="2.375" height="2.375" fill="#e030ef" stroke="none" stroke-width="1"/>
<rect x="311.8125" y="211.6125" width="2.375" height="2.375" fill="#e030ef" stroke="none" stroke-width="1"/>
<rect x="307.3125" y="215.3125" width="2.375" height="2.375" fill="#e030ef" stroke="none" stroke-width="1"/>
<rect x="315.8125" y="215.8125" width="2.375" height="2.375" fill="#e030ef" stroke="none" stroke-width="1"/>
<rect x="308.8125" y="217.8125" width="2.375" height="2.375" fill="#e030ef" stroke="none" stroke-width="1"/>
<rect x="311.8125" y="226.5125" width="2.375" height="2.375" fill="#e030ef" stroke="none" stroke-width="1"/>
<rect x="316.3125" y="224.8125" width="2.375" height="2.375" fill="#e030ef" stroke="none" stroke-width="1"/>
<rect x="316.3125" y="229.1125" width="2.375" height="2.375" fill="#e030ef" stroke="none" stroke-width="1"/>
<rect x="306.3125" y="230.8125" width="2.375" height="2.375" fill="#e030ef" stroke="none" stroke-width="1"/>
<line x1="313.3" y1="215.5" x2="313.3" y2="222" stroke="#e030ef" stroke-width="0.9"/>
<line x1="310.5" y1="215.5" x2="316.1" y2="215.5" stroke="#e030ef" stroke-width="0.9"/>
<line x1="310.5" y1="222" x2="316.1" y2="222" stroke="#e030ef" stroke-width="0.9"/>
<rect x="340.3125" y="184.1125" width="2.375" height="2.375" fill="#2a3af5" stroke="none" stroke-width="1"/>
<rect x="345.3125" y="183.3125" width="2.375" height="2.375" fill="#2a3af5" stroke="none" stroke-width="1"/>
<rect x="337.3125" y="190.4125" width="2.375" height="2.375" fill="#2a3af5" stroke="none" stroke-width="1"/>
<rect x="343.6125" y="189.6125" width="2.375" height="2.375" fill="#2a3af5" stroke="none" stroke-width="1"/>
<rect x="347.3125" y="190.4125" width="2.375" height="2.375" fill="#2a3af5" stroke="none" stroke-width="1"/>
<rect x="339.8125" y="191.8125" width="2.375" height="2.375" fill="#2a3af5" stroke="none" stroke-width="1"/>
<rect x="337.3125" y="199.4125" width="2.375" height="2.375" fill="#2a3af5" stroke="none" stroke-width="1"/>
<rect x="342.6125" y="197.8125" width="2.375" height="2.375" fill="#2a3af5" stroke="none" stroke-width="1"/>
<rect x="347.3125" y="198.8125" width="2.375" height="2.375" fill="#2a3af5" stroke="none" stroke-width="1"/>
<line x1="343.2" y1="191.5" x2="343.2" y2="195.8" stroke="#2a3af5" stroke-width="0.9"/>
<line x1="340.2" y1="191.5" x2="346.2" y2="191.5" stroke="#2a3af5" stroke-width="0.9"/>
<line x1="340.2" y1="195.8" x2="346.2" y2="195.8" stroke="#2a3af5" stroke-width="0.9"/>
<text x="252.1" y="202.9" font-size="7.5" font-weight="bold" text-anchor="middle" fill="#222">****</text>
<text x="282.4" y="201.5" font-size="7.5" font-weight="bold" text-anchor="middle" fill="#222">****</text>
<text x="313" y="199.9" font-size="7.5" font-weight="bold" text-anchor="middle" fill="#222">****</text>
<text x="343" y="184.1" font-size="7.5" font-weight="bold" text-anchor="middle" fill="#222">***</text>
<text x="222.8" y="252.4" font-size="4.95" font-weight="bold" text-anchor="end" fill="#222" transform="rotate(-45 222.8 252.4)">G1: Vehicle</text>
<text x="253.0" y="252.4" font-size="4.95" font-weight="bold" text-anchor="end" fill="#222" transform="rotate(-45 253.0 252.4)">G2: STR-V003-1.25 μg</text>
<text x="283.7" y="252.4" font-size="4.95" font-weight="bold" text-anchor="end" fill="#222" transform="rotate(-45 283.7 252.4)">G3: STR-V003-5 μg</text>
<text x="314.5" y="252.4" font-size="4.95" font-weight="bold" text-anchor="end" fill="#222" transform="rotate(-45 314.5 252.4)">G4: STR-V003-20 μg</text>
<text x="344.4" y="252.4" font-size="4.95" font-weight="bold" text-anchor="end" fill="#222" transform="rotate(-45 344.4 252.4)">G5: FI-RSV-0.05 μg</text>
<text x="352.4" y="146.8" font-size="15" font-weight="bold" text-anchor="start" fill="#111">e</text>
<text x="396.4" y="153.7" font-size="7.9" font-weight="bold" text-anchor="start" fill="#111" textLength="138.5" lengthAdjust="spacingAndGlyphs">Pathology scores of mouse lung tissues</text>
<line x1="393.6" y1="160.8" x2="393.6" y2="241.7" stroke="#222" stroke-width="1"/>
<line x1="393.6" y1="241.7" x2="533.6" y2="241.7" stroke="#222" stroke-width="1"/>
<line x1="391.40000000000003" y1="241.7" x2="393.6" y2="241.7" stroke="#222" stroke-width="0.9"/>
<text x="390.7" y="243.89999999999998" font-size="6.2" font-weight="bold" text-anchor="end" fill="#222">0</text>
<line x1="391.40000000000003" y1="228.22" x2="393.6" y2="228.22" stroke="#222" stroke-width="0.9"/>
<text x="390.7" y="230.42" font-size="6.2" font-weight="bold" text-anchor="end" fill="#222">2</text>
<line x1="391.40000000000003" y1="214.73999999999998" x2="393.6" y2="214.73999999999998" stroke="#222" stroke-width="0.9"/>
<text x="390.7" y="216.93999999999997" font-size="6.2" font-weight="bold" text-anchor="end" fill="#222">4</text>
<line x1="391.40000000000003" y1="201.26" x2="393.6" y2="201.26" stroke="#222" stroke-width="0.9"/>
<text x="390.7" y="203.45999999999998" font-size="6.2" font-weight="bold" text-anchor="end" fill="#222">6</text>
<line x1="391.40000000000003" y1="187.77999999999997" x2="393.6" y2="187.77999999999997" stroke="#222" stroke-width="0.9"/>
<text x="390.7" y="189.97999999999996" font-size="6.2" font-weight="bold" text-anchor="end" fill="#222">8</text>
<line x1="391.40000000000003" y1="174.29999999999998" x2="393.6" y2="174.29999999999998" stroke="#222" stroke-width="0.9"/>
<text x="390.7" y="176.49999999999997" font-size="6.2" font-weight="bold" text-anchor="end" fill="#222">10</text>
<line x1="391.40000000000003" y1="160.82" x2="393.6" y2="160.82" stroke="#222" stroke-width="0.9"/>
<text x="390.7" y="163.01999999999998" font-size="6.2" font-weight="bold" text-anchor="end" fill="#222">12</text>
<text x="368.3" y="200.4" font-size="6.3" font-weight="bold" text-anchor="middle" fill="#222" transform="rotate(-90 368.3 200.4)" textLength="52" lengthAdjust="spacingAndGlyphs">Pathology scores</text>
<text x="375.5" y="201.2" font-size="6.3" font-weight="bold" text-anchor="middle" fill="#222" transform="rotate(-90 375.5 201.2)" textLength="37.8" lengthAdjust="spacingAndGlyphs">(HE staining)</text>
<rect x="398.6" y="162.7" width="8.2" height="3.6" fill="#1ea6f2" stroke="none" stroke-width="1"/>
<text x="411.4" y="166.8" font-size="6.5" font-weight="bold" text-anchor="start" fill="#222" textLength="54" lengthAdjust="spacingAndGlyphs">Interstitium infiltration</text>
<rect x="398.6" y="173.89999999999998" width="8.2" height="3.6" fill="#f8bf85" stroke="none" stroke-width="1"/>
<text x="411.4" y="178.0" font-size="6.5" font-weight="bold" text-anchor="start" fill="#222" textLength="46.6" lengthAdjust="spacingAndGlyphs">Alveolar infiltration</text>
<rect x="398.6" y="183.5" width="8.2" height="3.6" fill="#5b4ff2" stroke="none" stroke-width="1"/>
<text x="411.4" y="187.60000000000002" font-size="6.5" font-weight="bold" text-anchor="start" fill="#222" textLength="64.6" lengthAdjust="spacingAndGlyphs">Peribronchiolar infiltration</text>
<rect x="398.6" y="193.7" width="8.2" height="3.6" fill="#111111" stroke="none" stroke-width="1"/>
<text x="411.4" y="197.8" font-size="6.5" font-weight="bold" text-anchor="start" fill="#222" textLength="56.4" lengthAdjust="spacingAndGlyphs">Perivascular infiltration</text>
<rect x="402.2" y="231.05079999999998" width="17.5" height="10.649200000000008" fill="#111111" stroke="none" stroke-width="1"/>
<rect x="402.2" y="224.31079999999997" width="17.5" height="6.740000000000009" fill="#5b4ff2" stroke="none" stroke-width="1"/>
<rect x="402.2" y="212.04399999999998" width="17.5" height="12.26679999999999" fill="#f8bf85" stroke="none" stroke-width="1"/>
<rect x="402.2" y="204.6974" width="17.5" height="7.346599999999995" fill="#1ea6f2" stroke="none" stroke-width="1"/>
<line x1="408.34999999999997" y1="229.55079999999998" x2="413.55" y2="229.55079999999998" stroke="#3a3a3a" stroke-width="0.9"/>
<line x1="408.34999999999997" y1="231.65079999999998" x2="413.55" y2="231.65079999999998" stroke="#3a3a3a" stroke-width="0.9"/>
<line x1="410.95" y1="229.55079999999998" x2="410.95" y2="231.65079999999998" stroke="#3a3a3a" stroke-width="0.9"/>
<line x1="408.34999999999997" y1="222.81079999999997" x2="413.55" y2="222.81079999999997" stroke="#8f88f0" stroke-width="0.9"/>
<line x1="408.34999999999997" y1="224.91079999999997" x2="413.55" y2="224.91079999999997" stroke="#8f88f0" stroke-width="0.9"/>
<line x1="410.95" y1="222.81079999999997" x2="410.95" y2="224.91079999999997" stroke="#8f88f0" stroke-width="0.9"/>
<line x1="408.34999999999997" y1="210.54399999999998" x2="413.55" y2="210.54399999999998" stroke="#d2b48e" stroke-width="0.9"/>
<line x1="408.34999999999997" y1="212.64399999999998" x2="413.55" y2="212.64399999999998" stroke="#d2b48e" stroke-width="0.9"/>
<line x1="410.95" y1="210.54399999999998" x2="410.95" y2="212.64399999999998" stroke="#d2b48e" stroke-width="0.9"/>
<line x1="408.34999999999997" y1="203.1974" x2="413.55" y2="203.1974" stroke="#56bcf0" stroke-width="0.9"/>
<line x1="408.34999999999997" y1="205.29739999999998" x2="413.55" y2="205.29739999999998" stroke="#56bcf0" stroke-width="0.9"/>
<line x1="410.95" y1="203.1974" x2="410.95" y2="205.29739999999998" stroke="#56bcf0" stroke-width="0.9"/>
<line x1="410.95" y1="241.7" x2="410.95" y2="243.7" stroke="#222" stroke-width="0.9"/>
<rect x="428.4" y="233.94899999999998" width="16.900000000000034" height="7.751000000000005" fill="#111111" stroke="none" stroke-width="1"/>
<rect x="428.4" y="231.927" width="16.900000000000034" height="2.0219999999999914" fill="#5b4ff2" stroke="none" stroke-width="1"/>
<rect x="428.4" y="224.31079999999997" width="16.900000000000034" height="7.6162000000000205" fill="#f8bf85" stroke="none" stroke-width="1"/>
<rect x="428.4" y="219.458" width="16.900000000000034" height="4.852799999999974" fill="#1ea6f2" stroke="none" stroke-width="1"/>
<line x1="434.25" y1="232.44899999999998" x2="439.45000000000005" y2="232.44899999999998" stroke="#3a3a3a" stroke-width="0.9"/>
<line x1="434.25" y1="234.54899999999998" x2="439.45000000000005" y2="234.54899999999998" stroke="#3a3a3a" stroke-width="0.9"/>
<line x1="436.85" y1="232.44899999999998" x2="436.85" y2="234.54899999999998" stroke="#3a3a3a" stroke-width="0.9"/>
<line x1="434.25" y1="230.427" x2="439.45000000000005" y2="230.427" stroke="#8f88f0" stroke-width="0.9"/>
<line x1="434.25" y1="232.527" x2="439.45000000000005" y2="232.527" stroke="#8f88f0" stroke-width="0.9"/>
<line x1="436.85" y1="230.427" x2="436.85" y2="232.527" stroke="#8f88f0" stroke-width="0.9"/>
<line x1="434.25" y1="222.81079999999997" x2="439.45000000000005" y2="222.81079999999997" stroke="#d2b48e" stroke-width="0.9"/>
<line x1="434.25" y1="224.91079999999997" x2="439.45000000000005" y2="224.91079999999997" stroke="#d2b48e" stroke-width="0.9"/>
<line x1="436.85" y1="222.81079999999997" x2="436.85" y2="224.91079999999997" stroke="#d2b48e" stroke-width="0.9"/>
<line x1="434.25" y1="217.958" x2="439.45000000000005" y2="217.958" stroke="#56bcf0" stroke-width="0.9"/>
<line x1="434.25" y1="220.058" x2="439.45000000000005" y2="220.058" stroke="#56bcf0" stroke-width="0.9"/>
<line x1="436.85" y1="217.958" x2="436.85" y2="220.058" stroke="#56bcf0" stroke-width="0.9"/>
<line x1="436.85" y1="241.7" x2="436.85" y2="243.7" stroke="#222" stroke-width="0.9"/>
<rect x="454" y="232.53359999999998" width="17.5" height="9.16640000000001" fill="#111111" stroke="none" stroke-width="1"/>
<rect x="454" y="229.0288" width="17.5" height="3.504799999999989" fill="#5b4ff2" stroke="none" stroke-width="1"/>
<rect x="454" y="222.28879999999998" width="17.5" height="6.740000000000009" fill="#f8bf85" stroke="none" stroke-width="1"/>
<rect x="454" y="215.5488" width="17.5" height="6.739999999999981" fill="#1ea6f2" stroke="none" stroke-width="1"/>
<line x1="460.15" y1="231.03359999999998" x2="465.35" y2="231.03359999999998" stroke="#3a3a3a" stroke-width="0.9"/>
<line x1="460.15" y1="233.13359999999997" x2="465.35" y2="233.13359999999997" stroke="#3a3a3a" stroke-width="0.9"/>
<line x1="462.75" y1="231.03359999999998" x2="462.75" y2="233.13359999999997" stroke="#3a3a3a" stroke-width="0.9"/>
<line x1="460.15" y1="227.5288" x2="465.35" y2="227.5288" stroke="#8f88f0" stroke-width="0.9"/>
<line x1="460.15" y1="229.62879999999998" x2="465.35" y2="229.62879999999998" stroke="#8f88f0" stroke-width="0.9"/>
<line x1="462.75" y1="227.5288" x2="462.75" y2="229.62879999999998" stroke="#8f88f0" stroke-width="0.9"/>
<line x1="460.15" y1="220.78879999999998" x2="465.35" y2="220.78879999999998" stroke="#d2b48e" stroke-width="0.9"/>
<line x1="460.15" y1="222.88879999999997" x2="465.35" y2="222.88879999999997" stroke="#d2b48e" stroke-width="0.9"/>
<line x1="462.75" y1="220.78879999999998" x2="462.75" y2="222.88879999999997" stroke="#d2b48e" stroke-width="0.9"/>
<line x1="460.15" y1="214.0488" x2="465.35" y2="214.0488" stroke="#56bcf0" stroke-width="0.9"/>
<line x1="460.15" y1="216.1488" x2="465.35" y2="216.1488" stroke="#56bcf0" stroke-width="0.9"/>
<line x1="462.75" y1="214.0488" x2="462.75" y2="216.1488" stroke="#56bcf0" stroke-width="0.9"/>
<line x1="462.75" y1="241.7" x2="462.75" y2="243.7" stroke="#222" stroke-width="0.9"/>
<rect x="480.2" y="233.1402" width="17.400000000000034" height="8.559799999999996" fill="#111111" stroke="none" stroke-width="1"/>
<rect x="480.2" y="230.4442" width="17.400000000000034" height="2.695999999999998" fill="#5b4ff2" stroke="none" stroke-width="1"/>
<rect x="480.2" y="224.31079999999997" width="17.400000000000034" height="6.133400000000023" fill="#f8bf85" stroke="none" stroke-width="1"/>
<rect x="480.2" y="216.762" width="17.400000000000034" height="7.5487999999999715" fill="#1ea6f2" stroke="none" stroke-width="1"/>
<line x1="486.29999999999995" y1="231.6402" x2="491.5" y2="231.6402" stroke="#3a3a3a" stroke-width="0.9"/>
<line x1="486.29999999999995" y1="233.7402" x2="491.5" y2="233.7402" stroke="#3a3a3a" stroke-width="0.9"/>
<line x1="488.9" y1="231.6402" x2="488.9" y2="233.7402" stroke="#3a3a3a" stroke-width="0.9"/>
<line x1="486.29999999999995" y1="228.9442" x2="491.5" y2="228.9442" stroke="#8f88f0" stroke-width="0.9"/>
<line x1="486.29999999999995" y1="231.0442" x2="491.5" y2="231.0442" stroke="#8f88f0" stroke-width="0.9"/>
<line x1="488.9" y1="228.9442" x2="488.9" y2="231.0442" stroke="#8f88f0" stroke-width="0.9"/>
<line x1="486.29999999999995" y1="222.81079999999997" x2="491.5" y2="222.81079999999997" stroke="#d2b48e" stroke-width="0.9"/>
<line x1="486.29999999999995" y1="224.91079999999997" x2="491.5" y2="224.91079999999997" stroke="#d2b48e" stroke-width="0.9"/>
<line x1="488.9" y1="222.81079999999997" x2="488.9" y2="224.91079999999997" stroke="#d2b48e" stroke-width="0.9"/>
<line x1="486.29999999999995" y1="215.262" x2="491.5" y2="215.262" stroke="#56bcf0" stroke-width="0.9"/>
<line x1="486.29999999999995" y1="217.362" x2="491.5" y2="217.362" stroke="#56bcf0" stroke-width="0.9"/>
<line x1="488.9" y1="215.262" x2="488.9" y2="217.362" stroke="#56bcf0" stroke-width="0.9"/>
<line x1="488.9" y1="241.7" x2="488.9" y2="243.7" stroke="#222" stroke-width="0.9"/>
<rect x="506.4" y="224.31079999999997" width="16.800000000000068" height="17.389200000000017" fill="#111111" stroke="none" stroke-width="1"/>
<rect x="506.4" y="213.52679999999998" width="16.800000000000068" height="10.783999999999992" fill="#5b4ff2" stroke="none" stroke-width="1"/>
<rect x="506.4" y="197.41819999999998" width="16.800000000000068" height="16.108599999999996" fill="#f8bf85" stroke="none" stroke-width="1"/>
<rect x="506.4" y="184.8818" width="16.800000000000068" height="12.536399999999986" fill="#1ea6f2" stroke="none" stroke-width="1"/>
<line x1="512.1999999999999" y1="222.81079999999997" x2="517.4" y2="222.81079999999997" stroke="#3a3a3a" stroke-width="0.9"/>
<line x1="512.1999999999999" y1="224.91079999999997" x2="517.4" y2="224.91079999999997" stroke="#3a3a3a" stroke-width="0.9"/>
<line x1="514.8" y1="222.81079999999997" x2="514.8" y2="224.91079999999997" stroke="#3a3a3a" stroke-width="0.9"/>
<line x1="512.1999999999999" y1="212.02679999999998" x2="517.4" y2="212.02679999999998" stroke="#8f88f0" stroke-width="0.9"/>
<line x1="512.1999999999999" y1="214.12679999999997" x2="517.4" y2="214.12679999999997" stroke="#8f88f0" stroke-width="0.9"/>
<line x1="514.8" y1="212.02679999999998" x2="514.8" y2="214.12679999999997" stroke="#8f88f0" stroke-width="0.9"/>
<line x1="512.1999999999999" y1="195.91819999999998" x2="517.4" y2="195.91819999999998" stroke="#d2b48e" stroke-width="0.9"/>
<line x1="512.1999999999999" y1="198.01819999999998" x2="517.4" y2="198.01819999999998" stroke="#d2b48e" stroke-width="0.9"/>
<line x1="514.8" y1="195.91819999999998" x2="514.8" y2="198.01819999999998" stroke="#d2b48e" stroke-width="0.9"/>
<line x1="512.1999999999999" y1="183.3818" x2="517.4" y2="183.3818" stroke="#56bcf0" stroke-width="0.9"/>
<line x1="512.1999999999999" y1="185.4818" x2="517.4" y2="185.4818" stroke="#56bcf0" stroke-width="0.9"/>
<line x1="514.8" y1="183.3818" x2="514.8" y2="185.4818" stroke="#56bcf0" stroke-width="0.9"/>
<line x1="514.8" y1="241.7" x2="514.8" y2="243.7" stroke="#222" stroke-width="0.9"/>
<line x1="511" y1="183.8818" x2="518" y2="183.8818" stroke="#1ea6f2" stroke-width="0.9"/>
<text x="513.7" y="178.26" font-size="6.6" font-weight="bold" text-anchor="middle" fill="#222">**</text>
<text x="412.1" y="247.3" font-size="6.5" font-weight="bold" text-anchor="end" fill="#222" transform="rotate(-42 412.1 247.3)">G1: Vehicle</text>
<text x="438.1" y="247.3" font-size="6.5" font-weight="bold" text-anchor="end" fill="#222" transform="rotate(-42 438.1 247.3)">G2: STR-V003-1.25 μg</text>
<text x="464.0" y="247.3" font-size="6.5" font-weight="bold" text-anchor="end" fill="#222" transform="rotate(-42 464.0 247.3)">G3: STR-V003-5 μg</text>
<text x="490.1" y="247.3" font-size="6.5" font-weight="bold" text-anchor="end" fill="#222" transform="rotate(-42 490.1 247.3)">G4: STR-V003-20 μg</text>
<text x="516.0" y="247.3" font-size="6.5" font-weight="bold" text-anchor="end" fill="#222" transform="rotate(-42 516.0 247.3)">G5: FI-RSV-0.05 μg</text>
<text x="5.5" y="304.8" font-size="15" font-weight="bold" text-anchor="start" fill="#111">f</text>
<text x="40.7" y="304" font-size="7.2" font-weight="bold" fill="#111">NT<tspan font-size="4.8" dy="1.5">50</tspan><tspan dy="-1.5">-RSV A2/B9320 in cotton rats</tspan></text>
<line x1="35.4" y1="316.9" x2="35.4" y2="389.2" stroke="#222" stroke-width="1"/>
<line x1="35.4" y1="389.2" x2="157" y2="389.2" stroke="#222" stroke-width="1"/>
<line x1="33.199999999999996" y1="389.2" x2="35.4" y2="389.2" stroke="#222" stroke-width="0.9"/>
<text x="27.2" y="391.2" font-size="5.6" font-weight="bold" text-anchor="end" fill="#222">2</text>
<text x="27.6" y="388.4" font-size="3.4" font-weight="bold" text-anchor="start" fill="#222">4</text>
<line x1="33.199999999999996" y1="365.2" x2="35.4" y2="365.2" stroke="#222" stroke-width="0.9"/>
<text x="27.2" y="367.2" font-size="5.6" font-weight="bold" text-anchor="end" fill="#222">2</text>
<text x="27.6" y="364.4" font-size="3.4" font-weight="bold" text-anchor="start" fill="#222">8</text>
<line x1="33.199999999999996" y1="341.2" x2="35.4" y2="341.2" stroke="#222" stroke-width="0.9"/>
<text x="27.2" y="343.2" font-size="5.6" font-weight="bold" text-anchor="end" fill="#222">2</text>
<text x="27.6" y="340.4" font-size="3.4" font-weight="bold" text-anchor="start" fill="#222">12</text>
<line x1="33.199999999999996" y1="317.2" x2="35.4" y2="317.2" stroke="#222" stroke-width="0.9"/>
<text x="27.2" y="319.2" font-size="5.6" font-weight="bold" text-anchor="end" fill="#222">2</text>
<text x="27.6" y="316.4" font-size="3.4" font-weight="bold" text-anchor="start" fill="#222">16</text>
<text x="0" y="0" font-size="6.8" font-weight="bold" fill="#222" text-anchor="middle" transform="translate(16.7,353.2) rotate(-90)" textLength="78" lengthAdjust="spacingAndGlyphs">50% neutralizing titer(NT<tspan font-size="4.4" dy="1.3">50</tspan><tspan dy="-1.3">)</tspan></text>
<line x1="39" y1="323.9" x2="92.6" y2="323.9" stroke="#444" stroke-width="1.2"/>
<text x="64.9" y="319.9" font-size="6.1" font-weight="bold" text-anchor="middle" fill="#222">RSV A2</text>
<line x1="100.9" y1="337.4" x2="154.1" y2="337.4" stroke="#222" stroke-width="1.2"/>
<text x="128.2" y="333.1" font-size="6.2" font-weight="bold" text-anchor="middle" fill="#222">RSV B9320</text>
<path d="M42.949999999999996,389.2 L42.949999999999996,346.34999999999997 L54.15,346.34999999999997 L54.15,389.2" fill="#fff" stroke="#2a3af5" stroke-width="1.3"/>
<line x1="48.55" y1="389.2" x2="48.55" y2="391.2" stroke="#222" stroke-width="0.9"/>
<path d="M63.25,389.2 L63.25,338.04999999999995 L73.75,338.04999999999995 L73.75,389.2" fill="#fff" stroke="#ff3333" stroke-width="1.3"/>
<line x1="68.5" y1="389.2" x2="68.5" y2="391.2" stroke="#222" stroke-width="0.9"/>
<path d="M82.65,389.2 L82.65,386.45 L93.64999999999999,386.45 L93.64999999999999,389.2" fill="#fff" stroke="#1ecb1e" stroke-width="1.3"/>
<line x1="88.15" y1="389.2" x2="88.15" y2="391.2" stroke="#222" stroke-width="0.9"/>
<path d="M102.05000000000001,389.2 L102.05000000000001,361.65 L113.25,361.65 L113.25,389.2" fill="#fff" stroke="#e030ef" stroke-width="1.3"/>
<line x1="107.65" y1="389.2" x2="107.65" y2="391.2" stroke="#222" stroke-width="0.9"/>
<path d="M121.65,389.2 L121.65,350.04999999999995 L132.85,350.04999999999995 L132.85,389.2" fill="#fff" stroke="#ff9a22" stroke-width="1.3"/>
<line x1="127.25" y1="389.2" x2="127.25" y2="391.2" stroke="#222" stroke-width="0.9"/>
<path d="M141.75,389.2 L141.75,386.04999999999995 L152.75,386.04999999999995 L152.75,389.2" fill="#fff" stroke="#111111" stroke-width="1.3"/>
<line x1="147.25" y1="389.2" x2="147.25" y2="391.2" stroke="#222" stroke-width="0.9"/>
<circle cx="45.4" cy="342.4" r="1.875" fill="#2a3af5"/>
<circle cx="50.8" cy="343.3" r="1.875" fill="#2a3af5"/>
<circle cx="48.4" cy="351.1" r="1.875" fill="#2a3af5"/>
<line x1="48.5" y1="343" x2="48.5" y2="348" stroke="#2a3af5" stroke-width="0.9"/>
<line x1="46.0" y1="343" x2="51.0" y2="343" stroke="#2a3af5" stroke-width="0.9"/>
<line x1="46.0" y1="348" x2="51.0" y2="348" stroke="#2a3af5" stroke-width="0.9"/>
<rect x="63.25" y="334.45" width="3.5" height="3.5" fill="#ff3333" stroke="none" stroke-width="1"/>
<rect x="66.75" y="332.75" width="3.5" height="3.5" fill="#ff3333" stroke="none" stroke-width="1"/>
<rect x="70.25" y="334.25" width="3.5" height="3.5" fill="#ff3333" stroke="none" stroke-width="1"/>
<polygon points="85,383.85 86.7875,387.1 83.2125,387.1" fill="#1ecb1e"/>
<polygon points="88,383.85 89.7875,387.1 86.2125,387.1" fill="#1ecb1e"/>
<polygon points="91,383.85 92.7875,387.1 89.2125,387.1" fill="#1ecb1e"/>
<polygon points="104.5,362.6 106.425,359.1 102.575,359.1" fill="#e030ef"/>
<polygon points="107.5,360.1 109.425,356.6 105.575,356.6" fill="#e030ef"/>
<polygon points="111,362.6 112.925,359.1 109.075,359.1" fill="#e030ef"/>
<line x1="107.7" y1="357.8" x2="107.7" y2="361" stroke="#e030ef" stroke-width="0.9"/>
<line x1="105.3" y1="357.8" x2="110.10000000000001" y2="357.8" stroke="#e030ef" stroke-width="0.9"/>
<line x1="105.3" y1="361" x2="110.10000000000001" y2="361" stroke="#e030ef" stroke-width="0.9"/>
<polygon points="124,350.6 125.925,347.1 122.075,347.1" fill="#ff9a22"/>
<polygon points="127,350.1 128.925,346.6 125.075,346.6" fill="#ff9a22"/>
<polygon points="130.5,351.1 132.425,347.6 128.575,347.6" fill="#ff9a22"/>
<circle cx="143.7" cy="385.4" r="1.875" fill="#111111"/>
<circle cx="147.3" cy="385.4" r="1.875" fill="#111111"/>
<circle cx="151" cy="385.4" r="1.875" fill="#111111"/>
<text x="48.4" y="339.2" font-size="6.5" font-weight="bold" text-anchor="middle" fill="#222">*</text>
<text x="68.3" y="333.3" font-size="6.5" font-weight="bold" text-anchor="middle" fill="#222">*</text>
<text x="106.8" y="355.3" font-size="6.5" font-weight="bold" text-anchor="middle" fill="#222">*</text>
<text x="126.9" y="346.3" font-size="6.5" font-weight="bold" text-anchor="middle" fill="#222">*</text>
<text x="49.7" y="399.3" font-size="6.5" font-weight="bold" text-anchor="end" fill="#222" transform="rotate(-43 49.7 399.3)">G1 STR-V003&#160; 5 μg</text>
<text x="69.7" y="399.3" font-size="6.5" font-weight="bold" text-anchor="end" fill="#222" transform="rotate(-43 69.7 399.3)">G2 STR-V003 20 μg</text>
<text x="89.3" y="399.3" font-size="6.5" font-weight="bold" text-anchor="end" fill="#222" transform="rotate(-43 89.3 399.3)">G3 Vehicle</text>
<text x="108.9" y="399.3" font-size="6.5" font-weight="bold" text-anchor="end" fill="#222" transform="rotate(-43 108.9 399.3)">G4 STR-V003 5 μg</text>
<text x="128.5" y="399.3" font-size="6.5" font-weight="bold" text-anchor="end" fill="#222" transform="rotate(-43 128.5 399.3)">G5 STR-V003 20 μg</text>
<text x="148.5" y="399.3" font-size="6.5" font-weight="bold" text-anchor="end" fill="#222" transform="rotate(-43 148.5 399.3)">G6: Vehicle</text>
<text x="176.2" y="304.5" font-size="15" font-weight="bold" text-anchor="start" fill="#111">g</text>
<text x="207.2" y="304.4" font-size="7.3" font-weight="bold" text-anchor="start" fill="#111" textLength="135.8" lengthAdjust="spacingAndGlyphs">Viral loads in lung tissue of cotton rats</text>
<line x1="204.3" y1="314" x2="204.3" y2="390.6" stroke="#222" stroke-width="1"/>
<line x1="204.3" y1="390.6" x2="344.2" y2="390.6" stroke="#222" stroke-width="1.1"/>
<line x1="202.10000000000002" y1="390.6" x2="204.3" y2="390.6" stroke="#222" stroke-width="0.9"/>
<text x="202" y="392.90000000000003" font-size="6.6" font-weight="bold" text-anchor="end" fill="#222">5</text>
<line x1="202.10000000000002" y1="375.3" x2="204.3" y2="375.3" stroke="#222" stroke-width="0.9"/>
<text x="202" y="377.6" font-size="6.6" font-weight="bold" text-anchor="end" fill="#222">6</text>
<line x1="202.10000000000002" y1="360.0" x2="204.3" y2="360.0" stroke="#222" stroke-width="0.9"/>
<text x="202" y="362.3" font-size="6.6" font-weight="bold" text-anchor="end" fill="#222">7</text>
<line x1="202.10000000000002" y1="344.70000000000005" x2="204.3" y2="344.70000000000005" stroke="#222" stroke-width="0.9"/>
<text x="202" y="347.00000000000006" font-size="6.6" font-weight="bold" text-anchor="end" fill="#222">8</text>
<line x1="202.10000000000002" y1="329.40000000000003" x2="204.3" y2="329.40000000000003" stroke="#222" stroke-width="0.9"/>
<text x="202" y="331.70000000000005" font-size="6.6" font-weight="bold" text-anchor="end" fill="#222">9</text>
<line x1="202.10000000000002" y1="314.1" x2="204.3" y2="314.1" stroke="#222" stroke-width="0.9"/>
<text x="202" y="316.40000000000003" font-size="6.6" font-weight="bold" text-anchor="end" fill="#222">10</text>
<text x="191.3" y="351.3" font-size="6.8" font-weight="bold" text-anchor="middle" fill="#222" transform="rotate(-90 191.3 351.3)" textLength="84.5" lengthAdjust="spacingAndGlyphs">Viral Loads (Log10 copies/g)</text>
<line x1="212.1" y1="326.5" x2="271.6" y2="326.5" stroke="#666" stroke-width="1.0"/>
<text x="241.9" y="324.2" font-size="6" font-weight="bold" text-anchor="middle" fill="#222" textLength="52" lengthAdjust="spacingAndGlyphs">RSV A2 challenge</text>
<line x1="277.8" y1="331.8" x2="341.8" y2="331.8" stroke="#666" stroke-width="1.0"/>
<text x="309.2" y="326.7" font-size="6" font-weight="bold" text-anchor="middle" fill="#222" textLength="62.7" lengthAdjust="spacingAndGlyphs">RSV B9320 challenge</text>
<path d="M213.55,390.6 L213.55,381.04999999999995 L226.35,381.04999999999995 L226.35,390.6" fill="#fff" stroke="#2a3af5" stroke-width="1.3"/>
<line x1="219.95" y1="390.6" x2="219.95" y2="392.6" stroke="#222" stroke-width="0.9"/>
<path d="M235.55,390.6 L235.55,381.04999999999995 L248.15,381.04999999999995 L248.15,390.6" fill="#fff" stroke="#ff3333" stroke-width="1.3"/>
<line x1="241.85000000000002" y1="390.6" x2="241.85000000000002" y2="392.6" stroke="#222" stroke-width="0.9"/>
<path d="M257.34999999999997,390.6 L257.34999999999997,349.65 L269.65000000000003,349.65 L269.65000000000003,390.6" fill="#fff" stroke="#1ecb1e" stroke-width="1.3"/>
<line x1="263.5" y1="390.6" x2="263.5" y2="392.6" stroke="#222" stroke-width="0.9"/>
<path d="M279.25,390.6 L279.25,381.04999999999995 L292.05,381.04999999999995 L292.05,390.6" fill="#fff" stroke="#e030ef" stroke-width="1.3"/>
<line x1="285.65" y1="390.6" x2="285.65" y2="392.6" stroke="#222" stroke-width="0.9"/>
<path d="M301.04999999999995,390.6 L301.04999999999995,381.04999999999995 L313.85,381.04999999999995 L313.85,390.6" fill="#fff" stroke="#ff9a22" stroke-width="1.3"/>
<line x1="307.45" y1="390.6" x2="307.45" y2="392.6" stroke="#222" stroke-width="0.9"/>
<path d="M322.65,390.6 L322.65,343.95 L335.65000000000003,343.95 L335.65000000000003,390.6" fill="#fff" stroke="#111111" stroke-width="1.3"/>
<line x1="329.15" y1="390.6" x2="329.15" y2="392.6" stroke="#222" stroke-width="0.9"/>
<circle cx="216.5" cy="380.4" r="1.75" fill="#2a3af5"/>
<circle cx="219.9" cy="380.4" r="1.75" fill="#2a3af5"/>
<circle cx="223.3" cy="380.4" r="1.75" fill="#2a3af5"/>
<rect x="236.875" y="378.775" width="3.25" height="3.25" fill="#ff3333" stroke="none" stroke-width="1"/>
<rect x="240.275" y="378.775" width="3.25" height="3.25" fill="#ff3333" stroke="none" stroke-width="1"/>
<rect x="243.675" y="378.775" width="3.25" height="3.25" fill="#ff3333" stroke="none" stroke-width="1"/>
<line x1="263.5" y1="333.4" x2="263.5" y2="364.3" stroke="#1ecb1e" stroke-width="0.9"/>
<line x1="260.9" y1="333.4" x2="266.1" y2="333.4" stroke="#1ecb1e" stroke-width="0.9"/>
<line x1="260.9" y1="364.3" x2="266.1" y2="364.3" stroke="#1ecb1e" stroke-width="0.9"/>
<polygon points="260.4,330.7 262.325,334.2 258.47499999999997,334.2" fill="#1ecb1e"/>
<polygon points="266.6,331.5 268.52500000000003,335.0 264.675,335.0" fill="#1ecb1e"/>
<polygon points="263.7,378.29999999999995 265.625,381.79999999999995 261.775,381.79999999999995" fill="#1ecb1e"/>
<rect x="280.7" y="378.9" width="3.0" height="3.0" fill="#e030ef" stroke="none" stroke-width="1"/>
<rect x="284.1" y="378.9" width="3.0" height="3.0" fill="#e030ef" stroke="none" stroke-width="1"/>
<rect x="287.5" y="378.9" width="3.0" height="3.0" fill="#e030ef" stroke="none" stroke-width="1"/>
<rect x="302.5" y="378.9" width="3.0" height="3.0" fill="#ff9a22" stroke="none" stroke-width="1"/>
<rect x="305.9" y="378.9" width="3.0" height="3.0" fill="#ff9a22" stroke="none" stroke-width="1"/>
<rect x="309.3" y="378.9" width="3.0" height="3.0" fill="#ff9a22" stroke="none" stroke-width="1"/>
<circle cx="325.7" cy="341" r="1.875" fill="#111111"/>
<circle cx="329" cy="342.8" r="1.875" fill="#111111"/>
<circle cx="332.3" cy="342.5" r="1.875" fill="#111111"/>
<text x="285.7" y="375.7" font-size="6.5" font-weight="bold" text-anchor="middle" fill="#222">****</text>
<text x="307.5" y="375.7" font-size="6.5" font-weight="bold" text-anchor="middle" fill="#222">****</text>
<text x="221.2" y="400" font-size="6.5" font-weight="bold" text-anchor="end" fill="#222" transform="rotate(-45 221.2 400)">G1:STR-V003 5 μg</text>
<text x="243.1" y="400" font-size="6.5" font-weight="bold" text-anchor="end" fill="#222" transform="rotate(-45 243.1 400)">G2:STR-V003 20 μg</text>
<text x="264.7" y="400" font-size="6.5" font-weight="bold" text-anchor="end" fill="#222" transform="rotate(-45 264.7 400)">G3: Vehicle</text>
<text x="286.9" y="400" font-size="6.5" font-weight="bold" text-anchor="end" fill="#222" transform="rotate(-45 286.9 400)">G4:STR-V003 5 μg</text>
<text x="308.7" y="400" font-size="6.5" font-weight="bold" text-anchor="end" fill="#222" transform="rotate(-45 308.7 400)">G5:STR-V003 20 μg</text>
<text x="330.4" y="400" font-size="6.5" font-weight="bold" text-anchor="end" fill="#222" transform="rotate(-45 330.4 400)">G6: Vehicle</text>
<text x="353" y="305" font-size="15" font-weight="bold" text-anchor="start" fill="#111">h</text>
<text x="388.4" y="304.4" font-size="7.3" font-weight="bold" text-anchor="start" fill="#111" textLength="141.3" lengthAdjust="spacingAndGlyphs">Viral loads in turbinate bone of cotton rats</text>
<line x1="391.4" y1="313.5" x2="391.4" y2="387.2" stroke="#222" stroke-width="1"/>
<line x1="391.4" y1="387.2" x2="524.3" y2="387.2" stroke="#222" stroke-width="1"/>
<line x1="389.2" y1="375.07" x2="391.4" y2="375.07" stroke="#222" stroke-width="0.9"/>
<text x="387.6" y="377.37" font-size="6.6" font-weight="bold" text-anchor="end" fill="#222">6</text>
<line x1="389.2" y1="350.81" x2="391.4" y2="350.81" stroke="#222" stroke-width="0.9"/>
<text x="387.6" y="353.11" font-size="6.6" font-weight="bold" text-anchor="end" fill="#222">8</text>
<line x1="389.2" y1="326.54999999999995" x2="391.4" y2="326.54999999999995" stroke="#222" stroke-width="0.9"/>
<text x="387.6" y="328.84999999999997" font-size="6.6" font-weight="bold" text-anchor="end" fill="#222">10</text>
<text x="377.3" y="352.6" font-size="6.6" font-weight="bold" text-anchor="middle" fill="#222" transform="rotate(-90 377.3 352.6)" textLength="81.7" lengthAdjust="spacingAndGlyphs">Viral Loads (Log10 copies/g)</text>
<line x1="398.3" y1="327.1" x2="455.4" y2="327.1" stroke="#444" stroke-width="1.3"/>
<text x="428" y="323.4" font-size="6" font-weight="bold" text-anchor="middle" fill="#222" textLength="49.5" lengthAdjust="spacingAndGlyphs">RSV A2 challenge</text>
<line x1="462.4" y1="334" x2="520.5" y2="334" stroke="#111" stroke-width="1.3"/>
<text x="491.5" y="329.6" font-size="6" font-weight="bold" text-anchor="middle" fill="#222" textLength="60.7" lengthAdjust="spacingAndGlyphs">RSV B9320 challenge</text>
<path d="M398.95,387.2 L398.95,371.54999999999995 L411.75,371.54999999999995 L411.75,387.2" fill="#fff" stroke="#2a3af5" stroke-width="1.3"/>
<line x1="405.35" y1="387.2" x2="405.35" y2="389.2" stroke="#222" stroke-width="0.9"/>
<path d="M420.54999999999995,387.2 L420.54999999999995,371.54999999999995 L433.05,371.54999999999995 L433.05,387.2" fill="#fff" stroke="#ff3333" stroke-width="1.3"/>
<line x1="426.79999999999995" y1="387.2" x2="426.79999999999995" y2="389.2" stroke="#222" stroke-width="0.9"/>
<path d="M441.54999999999995,387.2 L441.54999999999995,335.25 L453.85,335.25 L453.85,387.2" fill="#fff" stroke="#1ecb1e" stroke-width="1.3"/>
<line x1="447.7" y1="387.2" x2="447.7" y2="389.2" stroke="#222" stroke-width="0.9"/>
<path d="M463.04999999999995,387.2 L463.04999999999995,375.34999999999997 L475.35,375.34999999999997 L475.35,387.2" fill="#fff" stroke="#e030ef" stroke-width="1.3"/>
<line x1="469.2" y1="387.2" x2="469.2" y2="389.2" stroke="#222" stroke-width="0.9"/>
<path d="M484.04999999999995,387.2 L484.04999999999995,375.34999999999997 L496.35,375.34999999999997 L496.35,387.2" fill="#fff" stroke="#ff9a22" stroke-width="1.3"/>
<line x1="490.2" y1="387.2" x2="490.2" y2="389.2" stroke="#222" stroke-width="0.9"/>
<path d="M505.15,387.2 L505.15,346.34999999999997 L517.35,346.34999999999997 L517.35,387.2" fill="#fff" stroke="#111111" stroke-width="1.3"/>
<line x1="511.25" y1="387.2" x2="511.25" y2="389.2" stroke="#222" stroke-width="0.9"/>
<circle cx="401.9" cy="370.9" r="1.625" fill="#2a3af5"/>
<circle cx="405.3" cy="370.9" r="1.625" fill="#2a3af5"/>
<circle cx="408.7" cy="370.9" r="1.625" fill="#2a3af5"/>
<circle cx="423.4" cy="370.9" r="1.625" fill="#ff3333"/>
<circle cx="426.8" cy="370.9" r="1.625" fill="#ff3333"/>
<circle cx="430.2" cy="370.9" r="1.625" fill="#ff3333"/>
<line x1="447.7" y1="330.5" x2="447.7" y2="338.5" stroke="#1ecb1e" stroke-width="0.9"/>
<line x1="445.09999999999997" y1="330.5" x2="450.3" y2="330.5" stroke="#1ecb1e" stroke-width="0.9"/>
<line x1="445.09999999999997" y1="338.5" x2="450.3" y2="338.5" stroke="#1ecb1e" stroke-width="0.9"/>
<polygon points="447.8,328.0 449.725,331.5 445.875,331.5" fill="#1ecb1e"/>
<polygon points="445,332.5 446.925,336.0 443.075,336.0" fill="#1ecb1e"/>
<polygon points="447.8,337.4 449.725,340.9 445.875,340.9" fill="#1ecb1e"/>
<rect x="464.625" y="373.325" width="2.75" height="2.75" fill="#e030ef" stroke="none" stroke-width="1"/>
<rect x="467.825" y="373.325" width="2.75" height="2.75" fill="#e030ef" stroke="none" stroke-width="1"/>
<rect x="471.025" y="373.325" width="2.75" height="2.75" fill="#e030ef" stroke="none" stroke-width="1"/>
<rect x="485.625" y="373.325" width="2.75" height="2.75" fill="#ff9a22" stroke="none" stroke-width="1"/>
<rect x="488.825" y="373.325" width="2.75" height="2.75" fill="#ff9a22" stroke="none" stroke-width="1"/>
<rect x="492.025" y="373.325" width="2.75" height="2.75" fill="#ff9a22" stroke="none" stroke-width="1"/>
<line x1="511.2" y1="339" x2="511.2" y2="351" stroke="#111111" stroke-width="0.9"/>
<line x1="508.59999999999997" y1="339" x2="513.8" y2="339" stroke="#111111" stroke-width="0.9"/>
<line x1="508.59999999999997" y1="351" x2="513.8" y2="351" stroke="#111111" stroke-width="0.9"/>
<circle cx="510.6" cy="339.5" r="2.0" fill="#111111"/>
<circle cx="514.9" cy="346.4" r="2.0" fill="#111111"/>
<circle cx="508.2" cy="349" r="2.0" fill="#111111"/>
<text x="405.3" y="366.98" font-size="6.3" font-weight="bold" text-anchor="middle" fill="#222">****</text>
<text x="426.8" y="366.98" font-size="6.3" font-weight="bold" text-anchor="middle" fill="#222">****</text>
<text x="469.2" y="370.78" font-size="6.3" font-weight="bold" text-anchor="middle" fill="#222">****</text>
<text x="490.2" y="370.78" font-size="6.3" font-weight="bold" text-anchor="middle" fill="#222">****</text>
<text x="406.5" y="397" font-size="6.2" font-weight="bold" text-anchor="end" fill="#222" transform="rotate(-45 406.5 397)">G1:STR-V003 5 μg</text>
<text x="428.0" y="397" font-size="6.2" font-weight="bold" text-anchor="end" fill="#222" transform="rotate(-45 428.0 397)">G2:STR-V003 20 μg</text>
<text x="448.9" y="397" font-size="6.2" font-weight="bold" text-anchor="end" fill="#222" transform="rotate(-45 448.9 397)">G3: Vehicle</text>
<text x="470.4" y="397" font-size="6.2" font-weight="bold" text-anchor="end" fill="#222" transform="rotate(-45 470.4 397)">G4:STR-V003 5 μg</text>
<text x="491.4" y="397" font-size="6.2" font-weight="bold" text-anchor="end" fill="#222" transform="rotate(-45 491.4 397)">G5:STR-V003 20 μg</text>
<text x="512.4" y="397" font-size="6.2" font-weight="bold" text-anchor="end" fill="#222" transform="rotate(-45 512.4 397)">G6: Vehicle</text></svg></body></html>
